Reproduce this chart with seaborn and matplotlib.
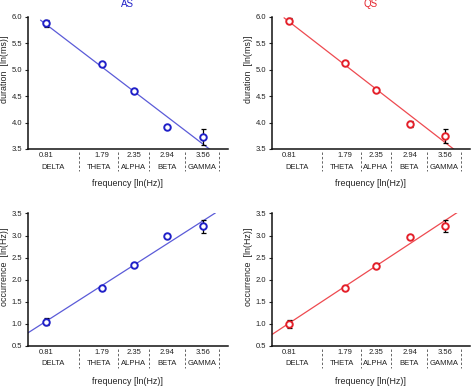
import numpy as np
import pandas as pd
import matplotlib
matplotlib.use("Agg")
import matplotlib.pyplot as plt
import matplotlib.transforms as mtransforms
import seaborn as sns

# ---- data ----
freq = [0.81, 1.79, 2.35, 2.94, 3.56]
bands = ["DELTA", "THETA", "ALPHA", "BETA", "GAMMA"]
band_edges = [0.5, 1.39, 2.08, 2.61, 3.25, 3.85]

as_duration = [5.87, 5.10, 4.59, 3.92, 3.72]
as_duration_err = [0.06, 0.03, 0.04, 0.02, 0.15]
qs_duration = [5.92, 5.13, 4.62, 3.97, 3.75]
qs_duration_err = [0.05, 0.03, 0.04, 0.05, 0.13]

as_occurrence = [1.05, 1.80, 2.33, 3.00, 3.21]
as_occurrence_err = [0.08, 0.04, 0.03, 0.03, 0.15]
qs_occurrence = [0.99, 1.82, 2.32, 2.97, 3.22]
qs_occurrence_err = [0.09, 0.04, 0.06, 0.05, 0.13]

sns.set_style("ticks")
plt.rcParams['font.family'] = ['Liberation Sans', 'DejaVu Sans']

fig = plt.figure(figsize=(4.74, 3.86), dpi=100)

# axes rectangles in figure fraction
rects = {
    (0, 0): [0.059, 0.614, 0.422, 0.343],
    (0, 1): [0.573, 0.614, 0.418, 0.343],
    (1, 0): [0.059, 0.104, 0.422, 0.343],
    (1, 1): [0.573, 0.104, 0.418, 0.343],
}

panels = [
    ((0, 0), "AS", as_duration, as_duration_err, "#2020c8", "#5b5bd8", "duration  [ln(ms)]", (3.5, 6.0), (0.72, 3.8), -0.258),
    ((0, 1), "QS", qs_duration, qs_duration_err, "#e4202a", "#ee4a50", "duration  [ln(ms)]", (3.5, 6.0), (0.72, 3.8), -0.258),
    ((1, 0), None, as_occurrence, as_occurrence_err, "#2020c8", "#5b5bd8", "occurrence  [ln(Hz)]", (0.5, 3.5), (0.5, 3.78), -0.27),
    ((1, 1), None, qs_occurrence, qs_occurrence_err, "#e4202a", "#ee4a50", "occurrence  [ln(Hz)]", (0.5, 3.5), (0.5, 3.84), -0.27),
]

for pos, title, vals, errs, mcol, lcol, ylab, ylim, span, xlab_y in panels:
    ax = fig.add_axes(rects[pos])
    df = pd.DataFrame({"freq": freq, "val": vals, "err": errs})

    # regression line
    slope, icpt = np.polyfit(df["freq"], df["val"], 1)
    xs = np.array(span)
    ax.plot(xs, slope * xs + icpt, color=lcol, lw=0.9, zorder=2)

    # error bars + open markers
    ax.errorbar(df["freq"], df["val"], yerr=df["err"], fmt="none",
                ecolor="black", elinewidth=0.9, capsize=1.8, capthick=0.9, zorder=3)
    sns.scatterplot(data=df, x="freq", y="val", ax=ax, marker="o", s=22,
                    facecolor="white", edgecolor=mcol, linewidth=1.4, zorder=4)

    ax.set_xlim(0.5, 4.0)
    ax.set_ylim(*ylim)
    yt = np.arange(ylim[0], ylim[1] + 0.01, 0.5)
    ax.set_yticks(yt)
    ax.set_yticklabels([f"{v:.1f}" for v in yt])
    ax.set_xticks(freq)
    ax.set_xticklabels([f"{f:.2f}" for f in freq])
    ax.tick_params(axis="x", length=0, pad=2.5, labelsize=5.5, colors="#222222")
    ax.tick_params(axis="y", length=2.5, width=0.8, pad=1.5, labelsize=5.5,
                   colors="#222222", direction="out")
    sns.despine(ax=ax)
    for s in ["left", "bottom"]:
        ax.spines[s].set_linewidth(1.1)
        ax.spines[s].set_color("#111111")

    trans = mtransforms.blended_transform_factory(ax.transData, ax.transAxes)
    # dashed band separators below the axis
    for e in band_edges[1:]:
        ax.plot([e, e], [-0.02, -0.165], transform=trans, clip_on=False,
                color="#666666", lw=0.7, ls=(0, (2.5, 2)))
    # band names centred inside each band
    for i, b in enumerate(bands):
        xc = (band_edges[i] + band_edges[i + 1]) / 2
        ax.text(xc, -0.136, b, transform=trans, ha="center", va="center",
                fontsize=5.5, color="#222222")

    ax.set_xlabel("")
    ax.text(0.5, xlab_y, "frequency [ln(Hz)]", transform=ax.transAxes,
            ha="center", va="center", fontsize=6.4, color="#222222")
    ax.set_ylabel(ylab, fontsize=6.4, color="#222222")
    ax.yaxis.set_label_coords(-0.095, 0.6)
    if title:
        ax.text(0.5, 1.095, title, transform=ax.transAxes, ha="center", va="center",
                fontsize=7, color=mcol)

fig.savefig("out.png", dpi=100)
